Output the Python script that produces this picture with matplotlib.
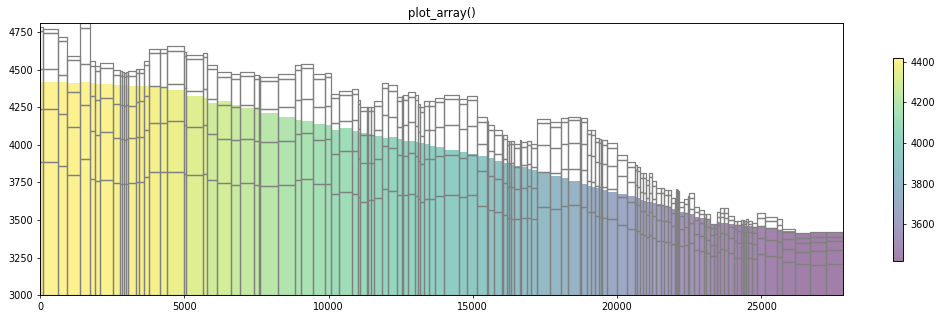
import numpy as np
import matplotlib
matplotlib.use("Agg")
import matplotlib.pyplot as plt
from matplotlib.patches import Rectangle
from matplotlib.collections import PatchCollection

# ---- data ----
x_edges = [0, 91, 634, 923, 1373, 1720, 1893, 2090, 2517, 2760, 2840, 2900, 2980, 3050,
           3337, 3441, 3615, 3788, 4169, 4412, 4978, 5047, 5660, 5798, 6122, 6630, 6942,
           7427, 7589, 7635, 8259, 8848, 9056, 9472, 9888, 10096, 10350, 10824, 11009,
           11078, 11321, 11367, 11459, 11586, 11864, 12049, 12361, 12534, 12569, 12765,
           12984, 13088, 13158, 13308, 13493, 13701, 14014, 14533, 14811, 15157, 15481,
           15515, 15747, 16001, 16059, 16186, 16243, 16336, 16440, 16648, 16683, 16890,
           17029, 17237, 17687, 18069, 18311, 18727, 18762, 18947, 19097, 19247, 19386,
           19455, 19490, 19640, 19987, 20345, 20611, 20680, 20796, 20912, 20993, 21108,
           21201, 21351, 21536, 21617, 21755, 21882, 22021, 22056, 22086, 22117, 22148,
           22321, 22448, 22483, 22656, 22841, 23014, 23084, 23234, 23373, 23454, 23477,
           23581, 23720, 23846, 24066, 24158, 24284, 24354, 24400, 24481, 24550, 24689,
           24862, 25116, 25532, 25729, 26156, 26699, 27254, 27843]

top = [4782, 4768, 4715, 4588, 4808, 4555, 4522, 4542, 4495, 4488, 4482, 4475, 4485, 4489,
       4506, 4506, 4560, 4635, 4635, 4655, 4615, 4595, 4608, 4529, 4482, 4469, 4482,
       4462, 4455, 4449, 4469, 4529, 4535, 4469, 4475, 4340, 4360, 4368, 4296,
       4250, 4254, 4254, 4254, 4289, 4409, 4396, 4320, 4325, 4329, 4349,
       4329, 4274, 4250, 4289, 4289, 4314, 4329, 4303, 4323, 4183, 4160,
       4130, 4097, 4063, 4063, 4028, 4028, 4028, 4006, 4035, 4017, 4028,
       4004, 4170, 4150, 4176, 4187, 4176, 4176, 4097, 4097, 4043, 4037,
       4035, 4030, 4010, 3930, 3884, 3865, 3855, 3811, 3811, 3767, 3811,
       3758, 3711, 3711, 3698, 3698, 3645, 3650, 3707, 3700, 3690, 3620,
       3640, 3660, 3678, 3585, 3567, 3538, 3538, 3472, 3476, 3500, 3552,
       3578, 3578, 3527, 3494, 3494, 3500, 3498, 3494, 3505, 3494, 3481,
       3545, 3518, 3505, 3443, 3412, 3421, 3421]

bot1 = [4760, 4741, 4688, 4562, 4775, 4526, 4491, 4513, 4462, 4460, 4455, 4450, 4460, 4460,
        4475, 4475, 4533, 4608, 4608, 4622, 4593, 4568, 4582, 4502, 4449, 4436, 4455,
        4436, 4430, 4422, 4436, 4495, 4509, 4440, 4449, 4309, 4329, 4338, 4272,
        4223, 4227, 4227, 4227, 4258, 4380, 4360, 4294, 4296, 4296, 4320,
        4298, 4250, 4216, 4258, 4258, 4285, 4303, 4269, 4296, 4150, 4125,
        4097, 4068, 4039, 4039, 4000, 4005, 4003, 3977, 4010, 3988, 4000,
        3977, 4143, 4117, 4150, 4167, 4150, 4150, 4072, 4068, 4017, 4010,
        4005, 4001, 3981, 3899, 3855, 3835, 3829, 3782, 3782, 3735, 3784,
        3729, 3678, 3678, 3667, 3667, 3616, 3620, 3680, 3675, 3665, 3589,
        3609, 3630, 3649, 3556, 3540, 3516, 3507, 3445, 3448, 3470, 3521,
        3549, 3549, 3501, 3470, 3470, 3475, 3474, 3472, 3485, 3474, 3452,
        3512, 3492, 3470, 3421, 3379, 3385, 3390]

bot2 = [4505, 4502, 4462, 4349, 4537, 4323, 4296, 4309, 4269, 4265, 4262, 4258, 4262, 4261,
        4283, 4290, 4327, 4391, 4387, 4402, 4376, 4356, 4369, 4303, 4263, 4254, 4263,
        4243, 4240, 4236, 4250, 4296, 4303, 4250, 4256, 4143, 4159, 4163, 4103,
        4063, 4066, 4068, 4068, 4097, 4196, 4183, 4121, 4126, 4130, 4150,
        4126, 4083, 4059, 4099, 4099, 4117, 4130, 4105, 4123, 4004, 3985,
        3957, 3937, 3906, 3906, 3880, 3882, 3878, 3855, 3870, 3866, 3873,
        3855, 3997, 3977, 4006, 4010, 4004, 4004, 3930, 3924, 3884, 3877,
        3875, 3873, 3860, 3793, 3751, 3735, 3722, 3689, 3682, 3647, 3680,
        3640, 3600, 3598, 3594, 3590, 3549, 3550, 3600, 3595, 3590, 3529,
        3545, 3560, 3576, 3501, 3483, 3463, 3452, 3401, 3405, 3420, 3467,
        3521, 3515, 3456, 3440, 3430, 3430, 3425, 3422, 3422, 3419, 3412,
        3463, 3445, 3432, 3377, 3346, 3354, 3363]

bot3 = [4240, 4236, 4203, 4117, 4263, 4090, 4063, 4083, 4043, 4040, 4038, 4035, 4040, 4046,
        4050, 4055, 4097, 4143, 4143, 4156, 4130, 4117, 4130, 4070, 4037, 4030, 4039,
        4026, 4022, 4017, 4024, 4070, 4077, 4030, 4037, 3937, 3957, 3960, 3904,
        3877, 3877, 3877, 3877, 3904, 3992, 3977, 3930, 3929, 3928, 3944,
        3926, 3895, 3871, 3904, 3904, 3925, 3930, 3911, 3930, 3824, 3810,
        3791, 3771, 3744, 3744, 3722, 3724, 3722, 3705, 3710, 3711, 3727,
        3711, 3822, 3811, 3837, 3842, 3835, 3835, 3758, 3751, 3729, 3718,
        3718, 3718, 3707, 3654, 3618, 3610, 3600, 3563, 3560, 3532, 3556,
        3529, 3498, 3496, 3494, 3490, 3461, 3460, 3490, 3485, 3480, 3441,
        3454, 3465, 3479, 3405, 3394, 3381, 3368, 3335, 3337, 3350, 3385,
        3412, 3410, 3381, 3360, 3350, 3348, 3346, 3346, 3346, 3346, 3339,
        3379, 3366, 3352, 3310, 3286, 3292, 3299]

bot4 = [3888, 3884, 3857, 3798, 3904, 3775, 3762, 3769, 3744, 3742, 3740, 3738, 3742, 3749,
        3751, 3752, 3784, 3817, 3817, 3822, 3806, 3798, 3804, 3764, 3744, 3731, 3744,
        3731, 3728, 3724, 3731, 3764, 3771, 3738, 3738, 3673, 3685, 3670, 3656,
        3620, 3628, 3631, 3631, 3645, 3705, 3696, 3667, 3666, 3665, 3676,
        3662, 3638, 3620, 3642, 3642, 3658, 3665, 3651, 3665, 3592, 3580,
        3565, 3552, 3534, 3534, 3514, 3515, 3510, 3505, 3510, 3512, 3514,
        3505, 3585, 3572, 3594, 3598, 3589, 3589, 3552, 3552, 3525, 3518,
        3515, 3512, 3505, 3465, 3439, 3435, 3430, 3405, 3401, 3385, 3401,
        3379, 3359, 3359, 3357, 3355, 3341, 3340, 3350, 3348, 3345, 3326,
        3332, 3340, 3350, 3301, 3295, 3286, 3279, 3261, 3262, 3268, 3290,
        3306, 3304, 3279, 3250, 3248, 3247, 3246, 3246, 3246, 3246, 3239,
        3272, 3259, 3253, 3219, 3206, 3204, 3210]

model_bottom = 3000

head = [4420, 4420, 4419, 4411, 4416, 4411, 4407, 4406, 4398, 4397, 4396, 4395, 4394, 4393,
        4393, 4391, 4389, 4385, 4378, 4362, 4358, 4325, 4311, 4278, 4292, 4263, 4245,
        4243, 4240, 4212, 4185, 4165, 4159, 4139, 4132, 4099, 4112, 4092, 4086,
        4077, 4072, 4069, 4066, 4059, 4046, 4052, 4039, 4033, 4026, 4026,
        4019, 4015, 4010, 4006, 3995, 3986, 3966, 3953, 3939, 3928, 3920,
        3913, 3893, 3885, 3880, 3875, 3870, 3866, 3860, 3857, 3853, 3837,
        3835, 3813, 3795, 3780, 3760, 3750, 3740, 3729, 3720, 3711, 3706,
        3703, 3700, 3685, 3673, 3660, 3652, 3645, 3634, 3630, 3623, 3618,
        3614, 3605, 3600, 3596, 3590, 3576, 3572, 3568, 3565, 3562, 3556,
        3548, 3542, 3538, 3523, 3516, 3512, 3507, 3490, 3487, 3485, 3484,
        3482, 3478, 3474, 3470, 3466, 3465, 3464, 3463, 3462, 3460, 3455,
        3462, 3443, 3434, 3428, 3424, 3422, 3421]

# ---- style (reference looks like defaults scaled by ~0.7) ----
s = 0.7
plt.rcParams.update({
    "font.size": 10 * s,
    "axes.linewidth": 0.8 * s * 1.2,
    "xtick.major.size": 3.5 * s,
    "ytick.major.size": 3.5 * s,
    "xtick.major.width": 0.8 * s,
    "ytick.major.width": 0.8 * s,
    "xtick.major.pad": 3.5 * s,
    "ytick.major.pad": 3.5 * s,
})

fig = plt.figure(figsize=(9.42, 3.19), dpi=100)
ax = fig.add_axes([0.0425, 0.0743, 0.8527, 0.8527])
cax = fig.add_axes([0.9483, 0.1828, 0.0106, 0.6363])

xe = np.asarray(x_edges, dtype=float)
layers = [top, bot1, bot2, bot3, bot4, [model_bottom] * len(top)]

# filled array (head) patches, from model bottom to min(head, top)
fills = []
for i in range(len(top)):
    ztop = min(head[i], top[i])
    fills.append(Rectangle((xe[i], model_bottom), xe[i + 1] - xe[i], ztop - model_bottom))
pc = PatchCollection(fills, cmap="viridis", alpha=0.5, linewidths=0)
pc.set_array(np.asarray(head, dtype=float))
pc.set_clim(min(head), max(head))
ax.add_collection(pc)

# grid cells
cells = []
for i in range(len(top)):
    for k in range(len(layers) - 1):
        zt = layers[k][i]
        zb = layers[k + 1][i]
        cells.append(Rectangle((xe[i], zb), xe[i + 1] - xe[i], zt - zb))
gc = PatchCollection(cells, facecolor="none", edgecolor="grey", linewidths=0.9)
ax.add_collection(gc)

ax.set_xlim(xe[0], xe[-1])
ax.set_ylim(model_bottom, max(top))
ax.set_title("plot_array()", fontsize=12 * s, pad=6 * s)

cb = fig.colorbar(pc, cax=cax)
cb.outline.set_linewidth(0.8 * s * 1.2)

fig.savefig("out.png", dpi=100)
